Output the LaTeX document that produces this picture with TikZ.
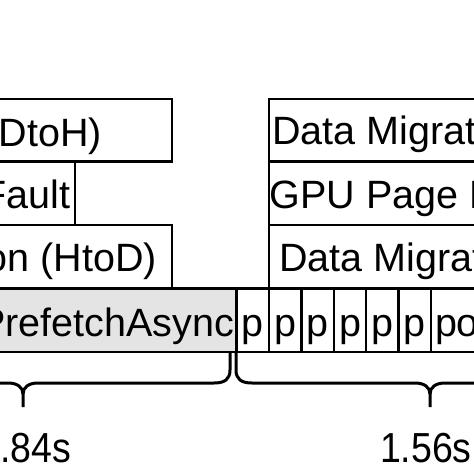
\documentclass[tikz,border=0pt]{standalone}
\usepackage{fontspec}
\setmainfont{Liberation Sans}
\begin{document}
\begin{tikzpicture}[x=1pt,y=-1pt,
  box/.style={draw=black,line width=2.8pt},
  lbl/.style={inner sep=0pt,outer sep=0pt,font=\fontsize{39.5}{42}\selectfont},
  num/.style={inner sep=0pt,outer sep=0pt,font=\fontsize{37.5}{40}\selectfont},
  bracepath/.style={draw=black,line width=3pt}]
\useasboundingbox (0,0) rectangle (474,474);
\clip (0,0) rectangle (474,474);
\definecolor{cellgray}{HTML}{E4E4E4}
% gray prefetch box
\fill[cellgray] (-10,288.5) rectangle (236.5,352);
% left column
\draw[box] (-10,99) rectangle (172,161.5);
\draw[box] (-10,161.5) rectangle (75,225);
\draw[box] (-10,225) rectangle (172,288.5);
\draw[box] (-10,288.5) rectangle (236.5,352);
% right column
\draw[box] (269,99) rectangle (520,161.5);
\draw[box] (269,161.5) rectangle (520,225);
\draw[box] (269,225) rectangle (520,288.5);
% p cells
\draw[box] (236.5,288.5) -- (520,288.5);
\draw[box] (236.5,352) -- (520,352);
\foreach \xx in {269,301.5,334,366,398.5,431}
  \draw[box] (\xx,288.5) -- (\xx,352);
% texts
\node[lbl,anchor=base east] (t1) at (102,146) {DtoH)};
\node[lbl,anchor=base east] (t2) at (70,208) {Fault};
\node[lbl,anchor=base east] (t3) at (157,271) {on (HtoD)};
\node[lbl,anchor=base east] (t4) at (234,336) {PrefetchAsync};
\node[lbl,anchor=base west] (r1) at (272,144) {Data Migrat};
\node[lbl,anchor=base west] (r2) at (269.5,208) {GPU Page F};
\node[lbl,anchor=base west] (r3) at (279,271) {Data Migrat};
\foreach \cx/\nm in {252.75/p1,285.25/p2,317.75/p3,350/p4,382.25/p5,414.75/p6}
  \node[lbl,anchor=base] (\nm) at (\cx,336) {p};
\node[lbl,anchor=base west] (p7) at (435,336) {po};
% braces
\draw[bracepath] (230,352) -- (230,370) .. controls (230,379) and (225,383) .. (214,383)
  -- (38,383) .. controls (29,383) and (23,387) .. (23,394) -- (23,407);
\draw[bracepath] (23,394) .. controls (23,387) and (17,383) .. (8,383) -- (-20,383);
\draw[bracepath] (236,352) -- (236,370) .. controls (236,379) and (241,383) .. (252,383)
  -- (415,383) .. controls (424,383) and (430,387) .. (430,394) -- (430,407);
\draw[bracepath] (430,394) .. controls (430,387) and (436,383) .. (445,383) -- (500,383);
% numbers
\node[num,anchor=base west] (n1) at (0,462) {\scalebox{1}[1.12]{.84s}};
\node[num,anchor=base west] (n2) at (380,462) {\scalebox{1}[1.12]{1.56s}};
\end{tikzpicture}
\end{document}
